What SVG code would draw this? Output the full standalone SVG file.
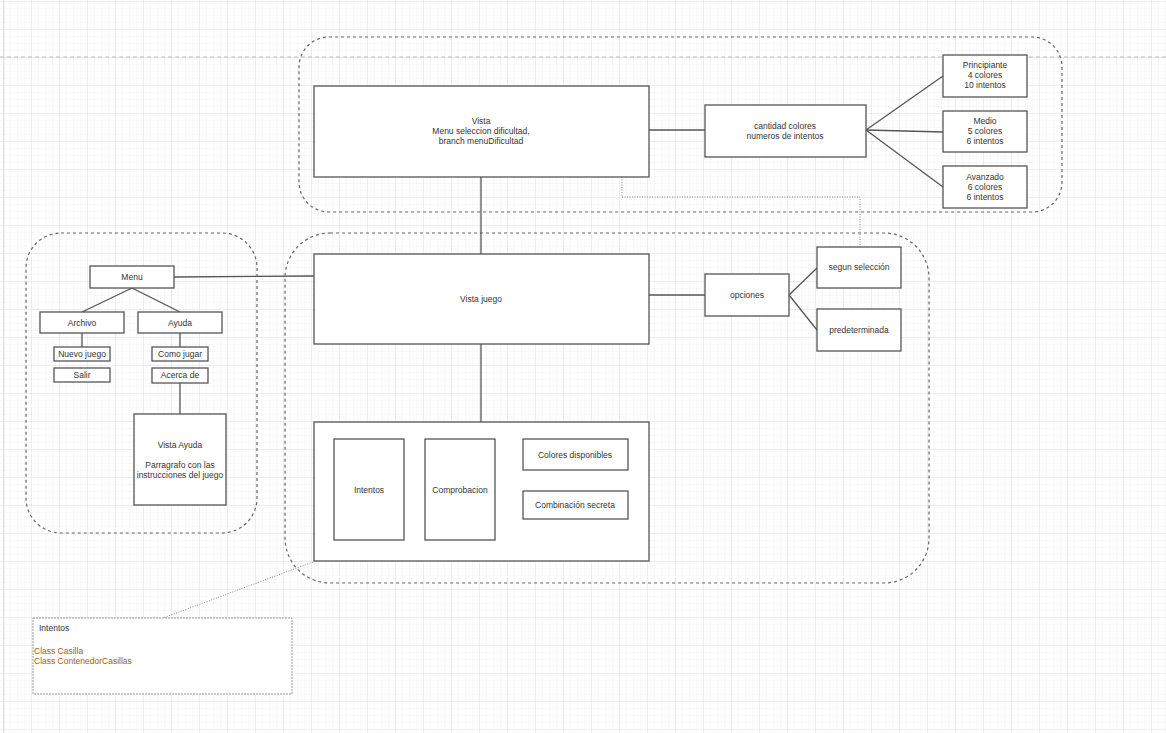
<svg xmlns="http://www.w3.org/2000/svg" width="1166" height="733" viewBox="0 0 1166 733">
<defs>
<pattern id="minor" x="4" y="2" width="7" height="7" patternUnits="userSpaceOnUse"><path d="M7 0V7H0" fill="none" stroke="#f1f1f1" stroke-width="1"/></pattern>
<pattern id="major" x="4" y="2" width="28" height="28" patternUnits="userSpaceOnUse"><path d="M28 0V28H0" fill="none" stroke="#e2e2e2" stroke-width="1"/></pattern>
</defs>
<style>
.b{fill:#fff;stroke:#555;stroke-width:1.3}
.g{fill:none;stroke:#666;stroke-width:1.2;stroke-dasharray:3 3}
.l{fill:none;stroke:#555;stroke-width:1.3}
.d{fill:none;stroke:#888;stroke-width:1;stroke-dasharray:1 1.5}
text{font-family:"Liberation Sans",Arial,sans-serif;font-size:8.5px;fill:#333;text-anchor:middle}
.o{fill:#b05a00}
</style>
<rect width="1166" height="733" fill="#fff"/>
<rect width="1166" height="733" fill="url(#minor)"/>
<rect width="1166" height="733" fill="url(#major)"/>
<line x1="0" y1="57" x2="1166" y2="57" stroke="#bbb" stroke-dasharray="4 3"/>
<line x1="4" y1="0" x2="4" y2="733" stroke="#ddd"/>
<g id="groups">
<rect class="g" x="299" y="37" width="763" height="175" rx="30"/>
<rect class="g" x="26" y="233" width="231" height="300" rx="35"/>
<rect class="g" x="285" y="233" width="644" height="350" rx="45"/>
</g>
<g id="connectors">
<line class="l" x1="649" y1="130" x2="705" y2="130"/>
<line class="l" x1="866" y1="130" x2="943" y2="76"/>
<line class="l" x1="866" y1="130" x2="943" y2="132"/>
<line class="l" x1="866" y1="130" x2="943" y2="187"/>
<line class="l" x1="481" y1="177" x2="481" y2="254"/>
<line class="l" x1="174" y1="277" x2="314" y2="276"/>
<line class="l" x1="132" y1="288" x2="82" y2="312"/>
<line class="l" x1="132" y1="288" x2="180" y2="312"/>
<line class="l" x1="82" y1="333" x2="82" y2="347"/>
<line class="l" x1="180" y1="333" x2="180" y2="347"/>
<line class="l" x1="180" y1="383" x2="180" y2="414"/>
<line class="l" x1="649" y1="295" x2="705" y2="295"/>
<line class="l" x1="789" y1="295" x2="817" y2="268"/>
<line class="l" x1="789" y1="295" x2="817" y2="330"/>
<line class="l" x1="481" y1="344" x2="481" y2="422"/>
<path class="d" d="M622 177V197H860V247"/>
<path class="d" d="M369 541L163 618"/>
</g>
<g id="vista"><rect class="b" x="314" y="86" width="335" height="91"/><text x="481" y="124">Vista</text><text x="481" y="134">Menu seleccion dificultad,</text><text x="481" y="144">branch menuDificultad</text></g>
<g id="cantidad"><rect class="b" x="705" y="105" width="161" height="52"/><text x="785" y="129">cantidad colores</text><text x="785" y="139">numeros de intentos</text></g>
<g id="principiante"><rect class="b" x="943" y="55" width="84" height="42"/><text x="985" y="68">Principiante</text><text x="985" y="78">4 colores</text><text x="985" y="88">10 intentos</text></g>
<g id="medio"><rect class="b" x="943" y="111" width="84" height="41"/><text x="985" y="124">Medio</text><text x="985" y="134">5 colores</text><text x="985" y="144">6 intentos</text></g>
<g id="avanzado"><rect class="b" x="943" y="166" width="84" height="42"/><text x="985" y="180">Avanzado</text><text x="985" y="190">6 colores</text><text x="985" y="200">6 intentos</text></g>
<g id="menu"><rect class="b" x="90" y="266" width="84" height="22"/><text x="132" y="280">Menu</text></g>
<g id="archivo"><rect class="b" x="40" y="312" width="84" height="21"/><text x="82" y="326">Archivo</text></g>
<g id="ayuda"><rect class="b" x="138" y="312" width="84" height="21"/><text x="180" y="326">Ayuda</text></g>
<g id="nuevo"><rect class="b" x="54" y="347" width="56" height="14"/><text x="82" y="357">Nuevo juego</text></g>
<g id="salir"><rect class="b" x="54" y="368" width="56" height="14"/><text x="82" y="378">Salir</text></g>
<g id="como"><rect class="b" x="152" y="347" width="56" height="14"/><text x="180" y="357">Como jugar</text></g>
<g id="acerca"><rect class="b" x="152" y="368" width="56" height="15"/><text x="180" y="378">Acerca de</text></g>
<g id="vistaAyuda"><rect class="b" x="134" y="414" width="92" height="91"/><text x="180" y="448">Vista Ayuda</text><text x="180" y="468">Parragrafo con las</text><text x="180" y="478">instrucciones del juego</text></g>
<g id="vistaJuego"><rect class="b" x="314" y="254" width="335" height="90"/><text x="481" y="302">Vista juego</text></g>
<g id="opciones"><rect class="b" x="705" y="274" width="84" height="42"/><text x="747" y="298">opciones</text></g>
<g id="segun"><rect class="b" x="817" y="247" width="84" height="41"/><text x="859" y="270">segun selección</text></g>
<g id="predet"><rect class="b" x="817" y="309" width="84" height="42"/><text x="859" y="333">predeterminada</text></g>
<g id="juego"><rect class="b" x="314" y="422" width="335" height="139"/></g>
<g id="intentos"><rect class="b" x="334" y="439" width="70" height="101"/><text x="369" y="493">Intentos</text></g>
<g id="comprobacion"><rect class="b" x="425" y="439" width="70" height="101"/><text x="460" y="493">Comprobacion</text></g>
<g id="colores"><rect class="b" x="523" y="439" width="105" height="31"/><text x="575" y="458">Colores disponibles</text></g>
<g id="combinacion"><rect class="b" x="523" y="491" width="105" height="28"/><text x="575" y="508">Combinación secreta</text></g>
<g id="nota"><rect x="33" y="618" width="259" height="76" fill="#fff" stroke="#999" stroke-dasharray="2 1"/><text x="39" y="631" style="text-anchor:start">Intentos</text><text x="34" y="654" style="text-anchor:start" class="o">Class Casilla</text><text x="34" y="664" style="text-anchor:start" class="o">Class ContenedorCasillas</text></g>
</svg>
